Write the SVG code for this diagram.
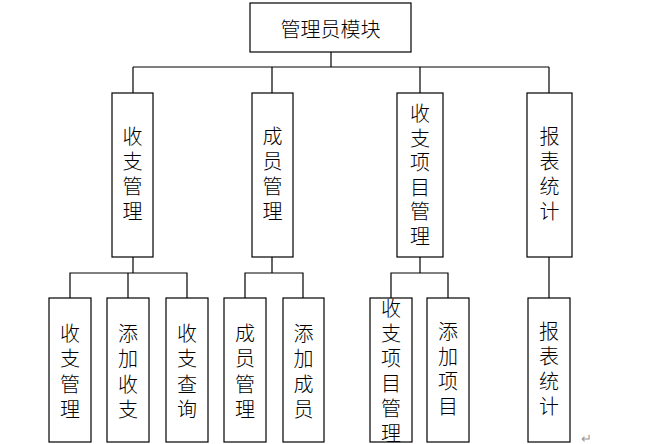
<svg xmlns="http://www.w3.org/2000/svg" width="649" height="444" viewBox="0 0 649 444">
<style>
rect{fill:#fff;stroke:#000;stroke-width:1.2}
.c line, .c polyline{stroke:#000;stroke-width:1.2;fill:none}
text{font-family:"Noto Sans CJK SC","Liberation Sans",sans-serif;font-size:20px;font-weight:300;fill:#000;text-anchor:middle;dominant-baseline:central}
</style>
<rect x="0" y="0" width="649" height="444" style="stroke:none"/>
<g class="c" id="connectors">
<line x1="331" y1="52" x2="331" y2="67"/>
<line x1="133" y1="67" x2="549" y2="67"/>
<line x1="133" y1="67" x2="133" y2="93"/>
<line x1="272" y1="67" x2="272" y2="93"/>
<line x1="420" y1="67" x2="420" y2="93"/>
<line x1="549" y1="67" x2="549" y2="93"/>
<line x1="133" y1="257" x2="133" y2="273"/>
<polyline points="70,298 70,273 187,273 187,298"/>
<line x1="128" y1="273" x2="128" y2="298"/>
<line x1="272" y1="257" x2="272" y2="273"/>
<polyline points="245,298 245,273 303,273 303,298"/>
<line x1="420" y1="257" x2="420" y2="273"/>
<polyline points="391,298 391,273 448,273 448,298"/>
<line x1="549" y1="257" x2="549" y2="298"/>
</g>
<g id="root"><rect x="250" y="3" width="161" height="49"/><text x="330.5" y="28">管理员模块</text></g>
<g id="n1"><rect x="112" y="93" width="41" height="164"/><text><tspan x="132.5" y="135">收</tspan><tspan x="132.5" y="160">支</tspan><tspan x="132.5" y="185">管</tspan><tspan x="132.5" y="210">理</tspan></text></g>
<g id="n2"><rect x="252" y="93" width="41" height="164"/><text><tspan x="272.5" y="135">成</tspan><tspan x="272.5" y="160">员</tspan><tspan x="272.5" y="185">管</tspan><tspan x="272.5" y="210">理</tspan></text></g>
<g id="n3"><rect x="397" y="93" width="46" height="164"/><text><tspan x="420" y="112">收</tspan><tspan x="420" y="137">支</tspan><tspan x="420" y="161">项</tspan><tspan x="420" y="186">目</tspan><tspan x="420" y="210">管</tspan><tspan x="420" y="235">理</tspan></text></g>
<g id="n4"><rect x="527" y="93" width="45" height="164"/><text><tspan x="549.5" y="135">报</tspan><tspan x="549.5" y="160">表</tspan><tspan x="549.5" y="185">统</tspan><tspan x="549.5" y="210">计</tspan></text></g>
<g id="n11"><rect x="49" y="298" width="42" height="144"/><text><tspan x="70" y="332">收</tspan><tspan x="70" y="357">支</tspan><tspan x="70" y="383">管</tspan><tspan x="70" y="408">理</tspan></text></g>
<g id="n12"><rect x="107" y="298" width="42" height="144"/><text><tspan x="128" y="332">添</tspan><tspan x="128" y="357">加</tspan><tspan x="128" y="383">收</tspan><tspan x="128" y="408">支</tspan></text></g>
<g id="n13"><rect x="166" y="298" width="42" height="144"/><text><tspan x="187" y="332">收</tspan><tspan x="187" y="357">支</tspan><tspan x="187" y="383">查</tspan><tspan x="187" y="408">询</tspan></text></g>
<g id="n21"><rect x="224" y="298" width="42" height="144"/><text><tspan x="245" y="332">成</tspan><tspan x="245" y="357">员</tspan><tspan x="245" y="383">管</tspan><tspan x="245" y="408">理</tspan></text></g>
<g id="n22"><rect x="283" y="298" width="41" height="144"/><text><tspan x="303.5" y="332">添</tspan><tspan x="303.5" y="357">加</tspan><tspan x="303.5" y="383">成</tspan><tspan x="303.5" y="408">员</tspan></text></g>
<g id="n31"><rect x="370" y="298" width="42" height="144"/><text><tspan x="391" y="307">收</tspan><tspan x="391" y="332">支</tspan><tspan x="391" y="357">项</tspan><tspan x="391" y="382">目</tspan><tspan x="391" y="407">管</tspan><tspan x="391" y="432">理</tspan></text></g>
<g id="n32"><rect x="427" y="298" width="42" height="144"/><text><tspan x="448" y="330">添</tspan><tspan x="448" y="355">加</tspan><tspan x="448" y="380">项</tspan><tspan x="448" y="405">目</tspan></text></g>
<g id="n41"><rect x="528" y="298" width="42" height="144"/><text><tspan x="549" y="330">报</tspan><tspan x="549" y="355">表</tspan><tspan x="549" y="380">统</tspan><tspan x="549" y="405">计</tspan></text></g>
<text x="586" y="437" style="font-size:13px;fill:#999">↵</text>
</svg>
